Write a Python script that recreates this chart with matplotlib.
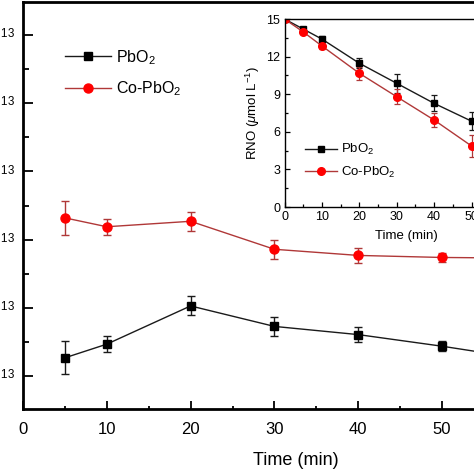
import numpy as np
import matplotlib
matplotlib.use("Agg")
import matplotlib.pyplot as plt
from matplotlib.ticker import MultipleLocator, FuncFormatter

plt.rcParams['font.family'] = ['Liberation Sans', 'DejaVu Sans']
plt.rcParams['mathtext.fontset'] = 'custom'
plt.rcParams['mathtext.rm'] = 'Liberation Sans'
plt.rcParams['mathtext.it'] = 'Liberation Sans:italic'
plt.rcParams['mathtext.bf'] = 'Liberation Sans:bold'

# main plot data (values in units of 1e13)
time = [5, 10, 20, 30, 40, 50, 60]
pbo2 = [1.27, 1.47, 2.03, 1.73, 1.61, 1.44, 1.25]
pbo2_err = [0.24, 0.12, 0.14, 0.14, 0.11, 0.07, 0.07]
copbo2 = [3.32, 3.19, 3.27, 2.86, 2.77, 2.74, 2.73]
copbo2_err = [0.25, 0.12, 0.14, 0.14, 0.11, 0.07, 0.07]

# inset data: RNO concentration
t_in = [0, 5, 10, 20, 30, 40, 50]
rno_pbo2 = [15.0, 14.2, 13.4, 11.47, 9.87, 8.27, 6.85]
rno_pbo2_err = [0.0, 0.2, 0.25, 0.4, 0.75, 0.65, 0.7]
rno_co = [15.0, 13.97, 12.85, 10.67, 8.8, 6.94, 4.87]
rno_co_err = [0.0, 0.2, 0.25, 0.5, 0.6, 0.55, 0.86]

red_line = '#b03838'

fig = plt.figure(figsize=(4.74, 4.74), dpi=100)
W = H = 474.0

# main axes, runs off the right edge of the picture like the cropped original
ax = fig.add_axes([23 / W, (H - 409) / H, 65 * 8.38 / W, 407.5 / H])
eb1 = ax.errorbar(time, pbo2, yerr=pbo2_err, color='#1a1a1a', lw=1.0,
                  marker='s', ms=6, mfc='black', mec='black',
                  ecolor='#1a1a1a', elinewidth=1.0, capsize=3, capthick=1.0)
eb2 = ax.errorbar(time, copbo2, yerr=copbo2_err, color=red_line, lw=1.0,
                  marker='o', ms=6.5, mfc='red', mec='red',
                  ecolor=red_line, elinewidth=1.0, capsize=3, capthick=1.0)
ax.set_xlim(0, 65)
ax.set_ylim(0.52, 6.49)
ax.xaxis.set_major_locator(MultipleLocator(10))
ax.xaxis.set_minor_locator(MultipleLocator(5))
ax.yaxis.set_major_locator(MultipleLocator(1))
ax.yaxis.set_minor_locator(MultipleLocator(0.5))
ax.yaxis.set_major_formatter(FuncFormatter(lambda v, p: '%.1fx10$^{\\;13}$' % v))
ax.tick_params(which='both', direction='in', top=False, right=False)
ax.tick_params(axis='y', which='major', length=7, width=1.3, pad=5.5, labelsize=12)
ax.tick_params(axis='y', which='minor', length=4, width=1.3)
ax.tick_params(axis='x', which='major', length=6, width=1.3, pad=9, labelsize=12)
ax.tick_params(axis='x', which='minor', length=2.5, width=1.3)
for s in ax.spines.values():
    s.set_linewidth(2)
ax.set_xlabel('Time (min)', fontsize=13, labelpad=11)

ax.legend([eb1[0], eb2[0]], ['PbO$_2$', 'Co-PbO$_2$'],
          loc='upper left', bbox_to_anchor=(42 / (65 * 8.38), 0.886),
          frameon=False, fontsize=11.5, handlelength=2.9,
          handletextpad=0.3, labelspacing=0.78, borderpad=0,
          borderaxespad=0)

# inset
ins = fig.add_axes([284.5 / W, (H - 207) / H, 65 * 3.74 / W, 188 / H])
ins.set_facecolor('white')
ib1 = ins.errorbar(t_in, rno_pbo2, yerr=rno_pbo2_err, color='#1a1a1a', lw=1.0,
                   marker='s', ms=5, mfc='black', mec='black',
                   ecolor='#1a1a1a', elinewidth=0.9, capsize=2, capthick=0.9)
ib2 = ins.errorbar(t_in, rno_co, yerr=rno_co_err, color=red_line, lw=1.0,
                   marker='o', ms=5.5, mfc='red', mec='red',
                   ecolor=red_line, elinewidth=0.9, capsize=2, capthick=0.9)
ins.set_xlim(0, 65)
ins.set_ylim(0, 15)
ins.xaxis.set_major_locator(MultipleLocator(10))
ins.xaxis.set_minor_locator(MultipleLocator(5))
ins.yaxis.set_major_locator(MultipleLocator(3))
ins.yaxis.set_minor_locator(MultipleLocator(1.5))
ins.tick_params(which='both', direction='in', top=False, right=False, labelsize=9)
ins.tick_params(which='major', length=3.5, width=0.9, pad=3)
ins.tick_params(which='minor', length=2, width=0.9)
for s in ins.spines.values():
    s.set_linewidth(1.0)
ins.set_xlabel('Time (min)', fontsize=9.5, labelpad=5)
ins.set_ylabel('RNO ($\\mu$mol L$^{-1}$)', fontsize=9.5, labelpad=3)
ins.legend([ib1[0], ib2[0]], ['PbO$_2$', 'Co-PbO$_2$'],
           loc='upper left', bbox_to_anchor=(20 / (65 * 3.74), 0.345),
           frameon=False, fontsize=9.5, handlelength=2.5, handletextpad=0.3,
           labelspacing=0.55, borderpad=0, borderaxespad=0)

fig.savefig('out.png', dpi=100)
